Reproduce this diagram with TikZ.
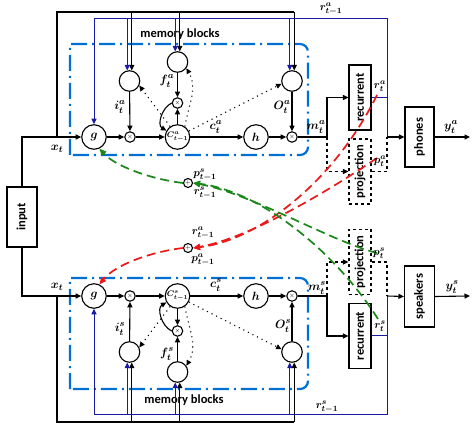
\documentclass[tikz,border=0pt]{standalone}
\usepackage{fontspec}
\newfontfamily\boxfont{Carlito}
\usetikzlibrary{arrows.meta,calc}
\definecolor{memblue}{RGB}{0,112,215}
\definecolor{fbblue}{RGB}{25,25,165}
\definecolor{rdash}{RGB}{235,25,25}
\definecolor{gdash}{RGB}{25,135,25}
\begin{document}
\begin{tikzpicture}[x=1pt,y=1pt,line width=1.1pt,
  >={Triangle[length=5.5pt,width=5pt]},
  circ/.style={draw,circle,inner sep=0pt,line width=1.1pt},
  gatec/.style={circ,minimum size=20.5pt},
  multc/.style={circ,minimum size=10.5pt,font=\fontsize{6}{6}\selectfont},
  bigc/.style={circ,minimum size=24.5pt,font=\fontsize{13}{13}\selectfont\boldmath},
  plusc/.style={circ,minimum size=9pt,font=\fontsize{6.5}{6.5}\selectfont},
  boxn/.style={draw,rectangle,inner sep=0pt,line width=1.1pt,minimum width=22pt,minimum height=65pt,font=\boxfont\bfseries\fontsize{12.5}{12.5}\selectfont},
  fb/.style={draw=fbblue,color=fbblue,line width=1pt},
  mem/.style={draw=memblue,line width=2.2pt,dash pattern=on 16pt off 5pt on 2pt off 5pt},
  lab/.style={inner sep=0pt,font=\fontsize{13}{13}\selectfont\boldmath},
  slab/.style={inner sep=0pt,font=\fontsize{11}{11}\selectfont\boldmath},
  rd/.style={draw=rdash,color=rdash,line width=1.7pt,dash pattern=on 9pt off 5pt,-{Triangle[length=7pt,width=6pt]}},
  gd/.style={draw=gdash,color=gdash,line width=1.7pt,dash pattern=on 9pt off 5pt,-{Triangle[length=7pt,width=6pt]}},
  peep/.style={line width=1.1pt,dash pattern=on 1.1pt off 4pt,-{Triangle[length=5.5pt,width=5pt]}},
  memtxt/.style={font=\boxfont\bfseries\fontsize{12.5}{12.5}\selectfont,inner sep=0pt}
]
\useasboundingbox (0,0) rectangle (474,-430);

% ---------- memory block frames ----------
\draw[mem] (70,-155) -- (70,-44) -- (300,-44) arc[start angle=90,end angle=0,radius=8] -- (308,-147) arc[start angle=0,end angle=-90,radius=8] -- cycle;
\draw[mem] (70,-389) -- (70,-278) -- (300,-278) arc[start angle=90,end angle=0,radius=8] -- (308,-381) arc[start angle=0,end angle=-90,radius=8] -- cycle;
\node[memtxt] (mbA) at (180,-34) {memory blocks};
\node[memtxt] (mbS) at (184,-400) {memory blocks};

% ---------- nodes, top (a) ----------
\node[bigc] (gA) at (94,-137) {$g$};
\node[multc] (miA) at (130,-137) {$\times$};
\node[bigc] (CA) at (177.5,-137) {\fontsize{8}{8}\selectfont$C^{a}_{t-1}$};
\node[bigc] (hA) at (256,-137) {$h$};
\node[multc] (moA) at (292,-137) {$\times$};
\node[gatec] (igA) at (129.5,-81) {};
\node[gatec] (fgA) at (177.5,-62) {};
\node[gatec] (ogA) at (292,-81) {};
\node[multc] (fmA) at (177.5,-103) {$\times$};
\node[boxn] (recA) at (360,-97.5) {\rotatebox{90}{recurrent}};
\node[boxn,dashed] (projA) at (360,-171.5) {\rotatebox{90}{projection}};
\node[boxn,minimum width=29pt,minimum height=60pt] (phones) at (419.5,-137) {\rotatebox{90}{phones}};
\node[boxn,minimum width=30pt,minimum height=60pt] (input) at (22,-217) {\rotatebox{90}{input}};

% ---------- nodes, bottom (s) ----------
\node[bigc] (gS) at (94,-296) {$g$};
\node[multc] (miS) at (130,-296) {$\times$};
\node[bigc] (CS) at (177.5,-296) {\fontsize{8}{8}\selectfont$C^{s}_{t-1}$};
\node[bigc] (hS) at (256,-296) {$h$};
\node[multc] (moS) at (292,-296) {$\times$};
\node[gatec] (igS) at (129.5,-352) {};
\node[gatec] (fgS) at (177.5,-372) {};
\node[gatec] (ogS) at (292,-352) {};
\node[multc] (fmS) at (177.5,-331) {$\times$};
\node[boxn,dashed] (projS) at (360,-262) {\rotatebox{90}{projection}};
\node[boxn] (recS) at (360,-336) {\rotatebox{90}{recurrent}};
\node[boxn,minimum width=30pt,minimum height=61pt] (speakers) at (419.5,-296.5) {\rotatebox{90}{speakers}};

% plus nodes
\node[plusc] (pU) at (188,-183) {$+$};
\node[plusc] (pL) at (188,-248) {$+$};

% ---------- coordinates ----------
\coordinate (xjA) at (57,-137);
\coordinate (tkA) at (57,-12);
\coordinate (bkA) at (94,-19);
\coordinate (jA) at (387,-137);
\coordinate (mA) at (327,-137);
\coordinate (yA) at (470,-137);
\coordinate (xjS) at (57,-296);
\coordinate (tkS) at (57,-422);
\coordinate (bkS) at (94,-414);
\coordinate (jS) at (387,-296);
\coordinate (mS) at (327,-296);
\coordinate (yS) at (470,-296);
\coordinate (rAo) at (377,-95);
\coordinate (pAo) at (377,-158);
\coordinate (rSo) at (378,-319);
\coordinate (pSo) at (377,-253);

% ---------- top main path ----------
\draw[->] (input.north) |- (gA.west);
\draw[->] (gA) -- (miA);
\draw[->] (miA) -- (CA);
\draw[->] (CA) -- (hA);
\draw[->] (hA) -- (moA);
\draw[->] (igA) -- (miA);
\draw[->] (ogA) -- (moA);
\draw[->] (fgA) -- (fmA);
\draw[->] (CA) -- (fmA);
\draw[->] (fmA.west) to[out=205,in=150] (CA.150);
\draw[peep] (CA.125) -- (igA.-25);
\draw[peep] (CA.55) to[out=80,in=-60] (fgA.-35);
\draw[peep] (CA.28) -- (ogA.195);
% black feedback
\draw (xjA) -- (tkA) -- (ogA.78 |- tkA);
\foreach \n in {igA,fgA,ogA} \draw[->] (\n.78 |- tkA) -- (\n.78);
% blue feedback
\draw[fb,->] (jA) -- (jA |- bkA) -- (bkA) -- (gA.north);
\foreach \n in {igA,fgA,ogA} \draw[fb,->] (\n.102 |- bkA) -- (\n.102);
\draw[fb] (recA.east) -- (recA.east -| jA);
% output side
\draw (moA.east) -- (mA);
\draw[->] (mA) |- (recA.west);
\draw[dashed,->] (mA) |- (projA.west);
\draw[dashed] (projA.east) -| (jA);
\draw[->] (jA) -- (phones.west);
\draw[->] (phones.east) -- (yA);

% ---------- bottom main path ----------
\draw[->] (input.south) |- (gS.west);
\draw[->] (gS) -- (miS);
\draw[->] (miS) -- (CS);
\draw[->] (CS) -- (hS);
\draw[->] (hS) -- (moS);
\draw[->] (igS) -- (miS);
\draw[->] (ogS) -- (moS);
\draw[->] (fgS) -- (fmS);
\draw[->] (CS) -- (fmS);
\draw[->] (fmS.west) to[out=155,in=-150] (CS.-150);
\draw[peep] (CS.-125) -- (igS.25);
\draw[peep] (CS.-55) to[out=-80,in=60] (fgS.35);
\draw[peep] (CS.-28) -- (ogS.165);
% black feedback
\draw (xjS) -- (tkS) -- (ogS.-78 |- tkS);
\foreach \n in {igS,fgS,ogS} \draw[->] (\n.-78 |- tkS) -- (\n.-78);
% blue feedback
\draw[fb,->] (jS) -- (jS |- bkS) -- (bkS) -- (gS.south);
\foreach \n in {igS,fgS,ogS} \draw[fb,->] (\n.-102 |- bkS) -- (\n.-102);
\draw[fb] (recS.east) -- (recS.east -| jS);
% output side
\draw (moS.east) -- (mS);
\draw[->] (mS) |- (recS.west);
\draw[dashed,->] (mS) |- (projS.west);
\draw[dashed] (projS.east) -| (jS);
\draw[->] (jS) -- (speakers.west);
\draw[->] (speakers.east) -- (yS);

% ---------- cross connections ----------
\draw[rd] (rAo) .. controls (335,-180) and (260,-240) .. (pL.east);
\draw[rd] (pAo) .. controls (330,-190) and (250,-238) .. (pL.east);
\draw[rd] (pL.west) .. controls (150,-252) and (115,-265) .. (gS.65);
\draw[gd] (rSo) .. controls (335,-251) and (260,-191) .. (pU.east);
\draw[gd] (pSo) .. controls (330,-241) and (250,-193) .. (pU.east);
\draw[gd] (pU.west) .. controls (150,-179) and (115,-166) .. (gA.-65);

% ---------- labels ----------
\node[lab] (lxA) at (57,-149) {$x_t$};
\node[lab] (liA) at (120,-107) {$i_t^{a}$};
\node[lab] (lfA) at (167,-81) {$f_t^{a}$};
\node[lab] (lcA) at (216,-127) {$c_t^{a}$};
\node[lab] (loA) at (282,-107) {$O_t^{a}$};
\node[lab] (lmA) at (316,-127) {$m_t^{a}$};
\node[slab] (lrA) at (380,-86) {$r_t^{a}$};
\node[slab] (lpA) at (380,-161) {$p_t^{a}$};
\node[slab] (lrpA) at (331,-9) {$r_{t-1}^{a}$};
\node[lab] (lyA) at (451,-127) {$y_t^{a}$};
\node[slab] (lp1) at (205,-175) {$p_{t-1}^{s}$};
\node[slab] (lr1) at (205,-193) {$r_{t-1}^{s}$};
\node[slab] (lr2) at (203,-233) {$r_{t-1}^{a}$};
\node[slab] (lp2) at (203,-260) {$p_{t-1}^{a}$};

\node[lab] (lxS) at (57,-287) {$x_t$};
\node[lab] (liS) at (120,-329) {$i_t^{s}$};
\node[lab] (lfS) at (167,-354) {$f_t^{s}$};
\node[lab] (lcS) at (216,-285) {$c_t^{s}$};
\node[lab] (loS) at (283,-326) {$O_t^{s}$};
\node[lab] (lmS) at (317,-288) {$m_t^{s}$};
\node[slab] (lpS) at (379,-253) {$p_t^{s}$};
\node[slab] (lrS) at (380,-326) {$r_t^{s}$};
\node[slab] (lrpS) at (327,-407) {$r_{t-1}^{s}$};
\node[lab] (lyS) at (452,-287) {$y_t^{s}$};
\end{tikzpicture}
\end{document}
